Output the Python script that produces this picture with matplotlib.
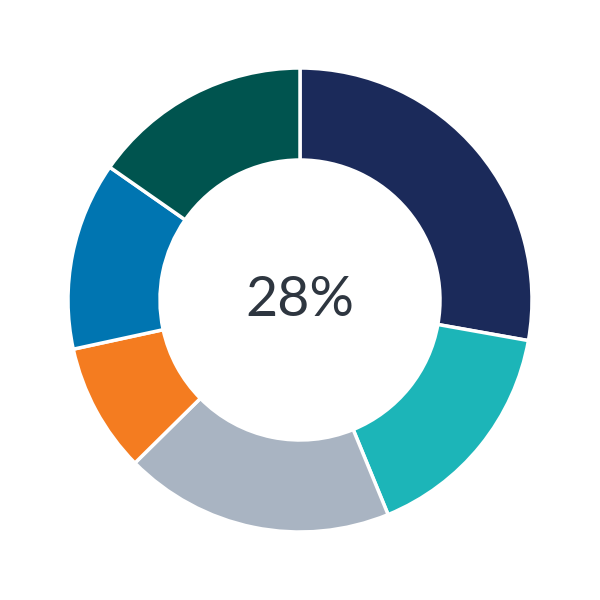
import matplotlib
matplotlib.use("Agg")
import matplotlib.pyplot as plt

labels = ["Navy", "Teal", "Gray", "Orange", "Blue", "Green"]
values = [27.8, 16.0, 18.8, 9.0, 13.1, 15.3]
colors = ["#1b2a5a", "#1cb5b8", "#a9b4c2", "#f47c20", "#0075b1", "#00544f"]
center_text = "28%"

fig = plt.figure(figsize=(6, 6), dpi=100)
ax = fig.add_axes([0, 0, 1, 1])
R = 232.0
ax.pie(values, colors=colors, startangle=90, counterclock=False, radius=1.0,
       wedgeprops=dict(width=92 / R, edgecolor="white", linewidth=2.5))
lim = 300 / R
ax.set_xlim(-lim, lim)
ax.set_ylim(-lim, lim)
ax.set_aspect("equal")
ax.axis("off")
ax.text(0, 0, center_text, ha="center", va="center", fontsize=40,
        family=["Lato", "DejaVu Sans"], color="#2e3640")
fig.savefig("out.png", dpi=100, facecolor="white")
